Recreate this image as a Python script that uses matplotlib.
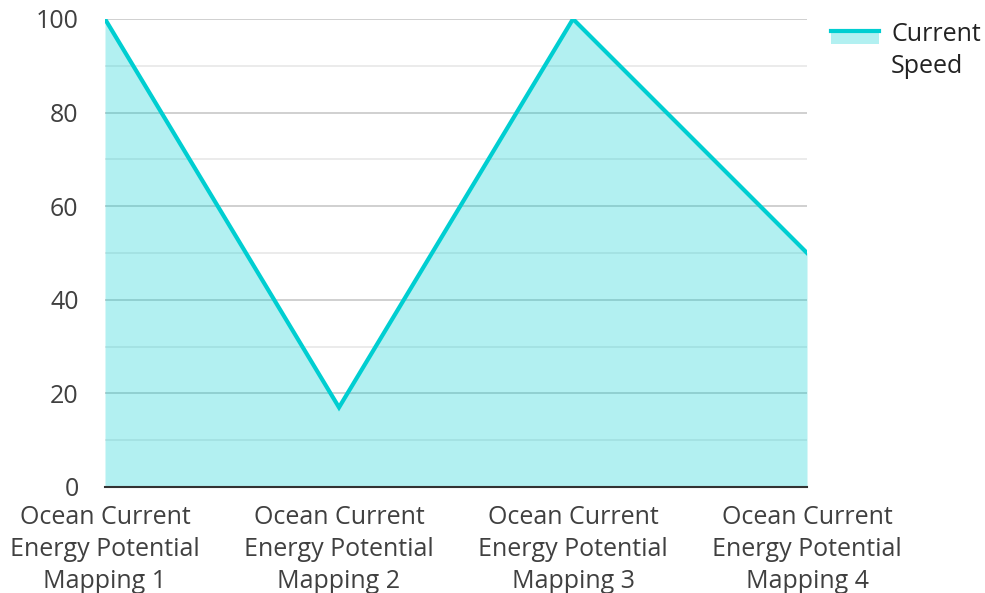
import matplotlib.pyplot as plt
from matplotlib.lines import Line2D
from matplotlib.patches import Patch, Rectangle
from matplotlib.legend_handler import HandlerBase
from matplotlib.ticker import MultipleLocator

plt.rcParams['font.family'] = ['Open Sans', 'DejaVu Sans']

categories = [
    "Ocean Current\nEnergy Potential\nMapping 1",
    "Ocean Current\nEnergy Potential\nMapping 2",
    "Ocean Current\nEnergy Potential\nMapping 3",
    "Ocean Current\nEnergy Potential\nMapping 4",
]
current_speed = [100, 17, 100, 50]

color = "#00CED1"
text_color = "#404040"


class AreaHandler(HandlerBase):
    # line along the top edge with the shaded area below it, lifted to the first text line
    def create_artists(self, legend, orig_handle, xdescent, ydescent,
                       width, height, fontsize, trans):
        base = -ydescent + 11.5
        box_h = 9.5
        rect = Rectangle((-xdescent, base), width, box_h, facecolor=color,
                         alpha=0.3, edgecolor="none", transform=trans)
        line = Line2D([-xdescent, -xdescent + width], [base + box_h, base + box_h],
                      color=color, linewidth=3, transform=trans)
        return [rect, line]


fig = plt.figure(figsize=(9.85, 5.93), dpi=100)
ax = fig.add_axes([0.1066, 0.1788, 0.7127, 0.7892])

x = range(len(categories))
ax.fill_between(x, current_speed, 0, color=color, alpha=0.3, linewidth=0, zorder=2)
ax.plot(x, current_speed, color=color, linewidth=3, solid_joinstyle="miter", zorder=3)

ax.set_xlim(0, len(categories) - 1)
ax.set_ylim(0, 100)
ax.yaxis.set_major_locator(MultipleLocator(20))
ax.yaxis.set_minor_locator(MultipleLocator(10))
ax.grid(axis="y", which="major", color="#c8c8c8", linewidth=1.2, zorder=1)
ax.grid(axis="y", which="minor", color="#e8e8e8", linewidth=1.2, zorder=1)
ax.set_axisbelow(True)

ax.set_xticks(list(x))
ax.set_xticklabels(categories, fontsize=18, color=text_color, linespacing=1.38)
ax.tick_params(axis="y", labelsize=18, labelcolor=text_color, length=0, pad=19)
ax.tick_params(axis="x", length=0, pad=13)
ax.tick_params(which="minor", length=0)

for side in ["left", "right", "top"]:
    ax.spines[side].set_visible(False)
ax.spines["bottom"].set_color("#333333")
ax.spines["bottom"].set_linewidth(1.5)
ax.spines["bottom"].set_zorder(4)

leg = ax.legend([Patch()], ["Current\nSpeed"], handler_map={Patch: AreaHandler()},
                loc="upper left", bbox_to_anchor=(1.02, 1.015), frameon=False,
                fontsize=18, labelcolor="#222222", handlelength=1.9, handleheight=0.7,
                handletextpad=0.5, borderaxespad=0)
leg.get_texts()[0].set_linespacing(1.38)

fig.savefig("out.png", dpi=100)
